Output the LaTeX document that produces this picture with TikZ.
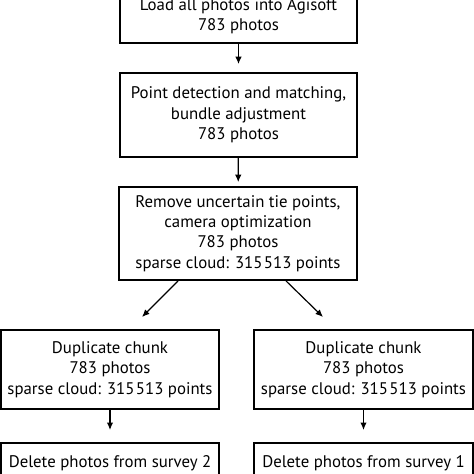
\documentclass[tikz,border=0pt]{standalone}
\usepackage{fontspec}
\setmainfont{PT Sans}
\usetikzlibrary{arrows.meta}
\begin{document}
\begin{tikzpicture}[x=1pt,y=-1pt,
  box/.style={draw=black,line width=1.8pt,align=center,inner sep=0pt,
    font=\fontsize{16.8}{20.4}\selectfont},
  arr/.style={line width=1.2pt,-{Latex[length=7.5pt,width=6.5pt]}}]
\useasboundingbox (0,0) rectangle (474,474);
\begin{scope}
\clip (0,0) rectangle (474,474);
\fill[white] (0,0) rectangle (474,474);
\node[box,minimum width=237pt,minimum height=53pt] (b1) at (238.5,16.5)
  {Load all photos into Agisoft\\783 photos};
\node[box,minimum width=237pt,minimum height=84pt] (b2) at (238.5,115)
  {Point detection and matching,\\bundle adjustment\\783 photos};
\node[box,minimum width=238pt,minimum height=93pt] (b3) at (238,233.5)
  {Remove uncertain tie points,\\camera optimization\\783 photos\\sparse cloud: 315\kern1.5pt513 points};
\node[box,minimum width=218pt,minimum height=79pt] (b4l) at (110,369.5)
  {Duplicate chunk\\783 photos\\sparse cloud: 315\kern1.5pt513 points};
\node[box,minimum width=219pt,minimum height=79pt] (b4r) at (363.5,369.5)
  {Duplicate chunk\\783 photos\\sparse cloud: 315\kern1.5pt513 points};
\node[box,minimum width=218pt,minimum height=60pt,anchor=north] (b5l) at (110,442)
  {Delete photos from survey 2\\442 photos};
\node[box,minimum width=219pt,minimum height=60pt,anchor=north] (b5r) at (363.5,442)
  {Delete photos from survey 1\\341 photos};
\coordinate (al) at (142,317);
\coordinate (ar) at (323,317);
\draw[arr,shorten >=8pt] (b1) -- (b2);
\draw[arr,shorten >=4pt] (b2) -- (b3);
\draw[arr] ([xshift=-60pt]b3.south) -- (al);
\draw[arr] ([xshift=48pt]b3.south) -- (ar);
\draw[arr,shorten >=12pt] (b4l) -- (b5l);
\draw[arr,shorten >=12pt] (b4r) -- (b5r);
\end{scope}
\end{tikzpicture}
\end{document}
